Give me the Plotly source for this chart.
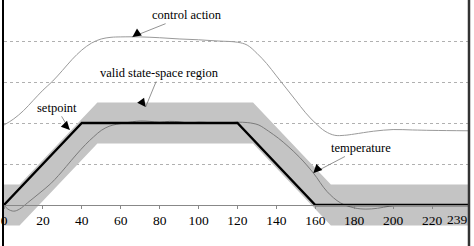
import plotly.graph_objects as go

# ---- data ----
setpoint_t = [0, 40, 120, 160, 239]
setpoint_v = [0, 2, 2, 0, 0]

band_t = [0, 8, 48, 128, 168, 239]
band_lower = [-0.5, -0.5, 1.5, 1.5, -0.5, -0.5]
band_upper = [0.5, 0.5, 2.5, 2.5, 0.5, 0.5]

temp_t = [0, 2, 5, 8, 12, 18, 24, 28, 32, 37, 42, 46, 50, 54, 58, 62, 66, 70, 75, 80, 85, 90,
          95, 100, 105, 110, 115, 120, 125, 128, 131, 136, 141, 146, 152, 159, 166, 173, 180,
          186, 192, 198, 203, 210, 220, 230, 239]
temp_v = [0, -0.1, -0.15, -0.1, 0.05, 0.28, 0.52, 0.72, 0.94, 1.22, 1.48, 1.66, 1.82, 1.92, 1.97,
          2.0, 2.03, 2.05, 2.04, 2.02, 2.04, 2.03, 2.0, 2.02, 2.01, 2.0, 2.0, 2.02, 2.01, 1.99,
          1.95, 1.8, 1.63, 1.43, 1.16, 0.78, 0.33, 0.05, -0.07, -0.1, -0.08, -0.03, 0.0, 0.01,
          0.0, 0.01, 0.0]

ctrl_t = [0, 5, 10, 15, 20, 25, 30, 35, 40, 45, 50, 55, 60, 70, 80, 90, 100, 110, 120, 125,
          130, 135, 140, 145, 150, 155, 160, 165, 170, 175, 180, 190, 200, 210, 220, 239]
ctrl_v = [1.95, 2.1, 2.3, 2.55, 2.8, 3.02, 3.28, 3.55, 3.78, 3.95, 4.05, 4.09, 4.1, 4.1, 4.08,
          4.05, 4.03, 4.0, 3.97, 3.9, 3.7, 3.45, 3.15, 2.85, 2.55, 2.25, 2.0, 1.8, 1.7, 1.7,
          1.73, 1.8, 1.84, 1.83, 1.82, 1.81]

x_ticks = [0, 20, 40, 60, 80, 100, 120, 140, 160, 180, 200, 220]
last_tick = 239

labels = [
    # text, text_t, text_v, tip_t, tip_v, head offset px (ax, ay)
    ("control action", 94, 4.63, 66, 4.1, (7.4, -5.1)),
    ("valid state-space region", 80, 3.22, 72.8, 2.39, (-5.3, -7.3)),
    ("setpoint", 27, 2.37, 33.8, 1.83, (-6.2, -6.6)),
    ("temperature", 183.6, 1.39, 159, 0.78, (6.4, -6.4)),
]

FONT = "Times New Roman, Liberation Serif, DejaVu Serif, serif"

fig = go.Figure()
fig.add_trace(go.Scatter(x=band_t, y=band_lower, mode="lines", line=dict(width=0),
                         hoverinfo="skip", showlegend=False))
fig.add_trace(go.Scatter(x=band_t, y=band_upper, mode="lines", line=dict(width=0),
                         fill="tonexty", fillcolor="#c4c4c4", hoverinfo="skip", showlegend=False))
fig.add_trace(go.Scatter(x=ctrl_t, y=ctrl_v, mode="lines", line=dict(color="#9a9a9a", width=1),
                         line_shape="spline", showlegend=False))
fig.add_trace(go.Scatter(x=temp_t, y=temp_v, mode="lines", line=dict(color="#7a7a7a", width=1),
                         line_shape="spline", showlegend=False))
fig.add_trace(go.Scatter(x=setpoint_t, y=setpoint_v, mode="lines",
                         line=dict(color="black", width=2.3), showlegend=False))

for text, tt, tv, pt, pv, (hx, hy) in labels:
    fig.add_annotation(x=pt, y=pv, ax=tt, ay=tv, axref="x", ayref="y", text=text,
                       showarrow=True, arrowhead=0, arrowwidth=0.8, arrowcolor="#777",
                       font=dict(family=FONT, size=12.5, color="black"), standoff=0)
    fig.add_annotation(x=pt, y=pv, ax=hx, ay=hy, text="", showarrow=True, arrowhead=2,
                       arrowsize=1.7, arrowwidth=1, arrowcolor="black")

fig.add_annotation(x=last_tick, y=0, text=str(last_tick), showarrow=False, xanchor="right",
                   yanchor="top", yshift=-5, xshift=1,
                   font=dict(family=FONT, size=13.5, color="black"))

fig.add_shape(type="line", xref="paper", yref="paper", x0=1, x1=1, y0=0, y1=1,
              line=dict(color="#333", width=2.5))

fig.update_layout(
    width=474, height=246, margin=dict(l=4, r=5, t=0, b=0),
    paper_bgcolor="white", plot_bgcolor="white",
    font=dict(family=FONT),
    xaxis=dict(range=[0, 239], tickmode="array", tickvals=x_ticks,
               ticktext=[str(v) for v in x_ticks], anchor="free", position=1/6,
               showline=True, linecolor="#888", linewidth=1, ticks="outside", ticklen=3,
               tickcolor="#888", showgrid=False, zeroline=False,
               tickfont=dict(family=FONT, size=13.5, color="black")),
    yaxis=dict(range=[-1, 5], tickmode="array", tickvals=[-1, 1, 2, 3, 4],
               showticklabels=False, showgrid=True, gridcolor="#b0b0b0", griddash="dot",
               gridwidth=1, zeroline=False, showline=True, linecolor="black", linewidth=1.5,
               ticks=""),
)

fig.write_html("out.html")
